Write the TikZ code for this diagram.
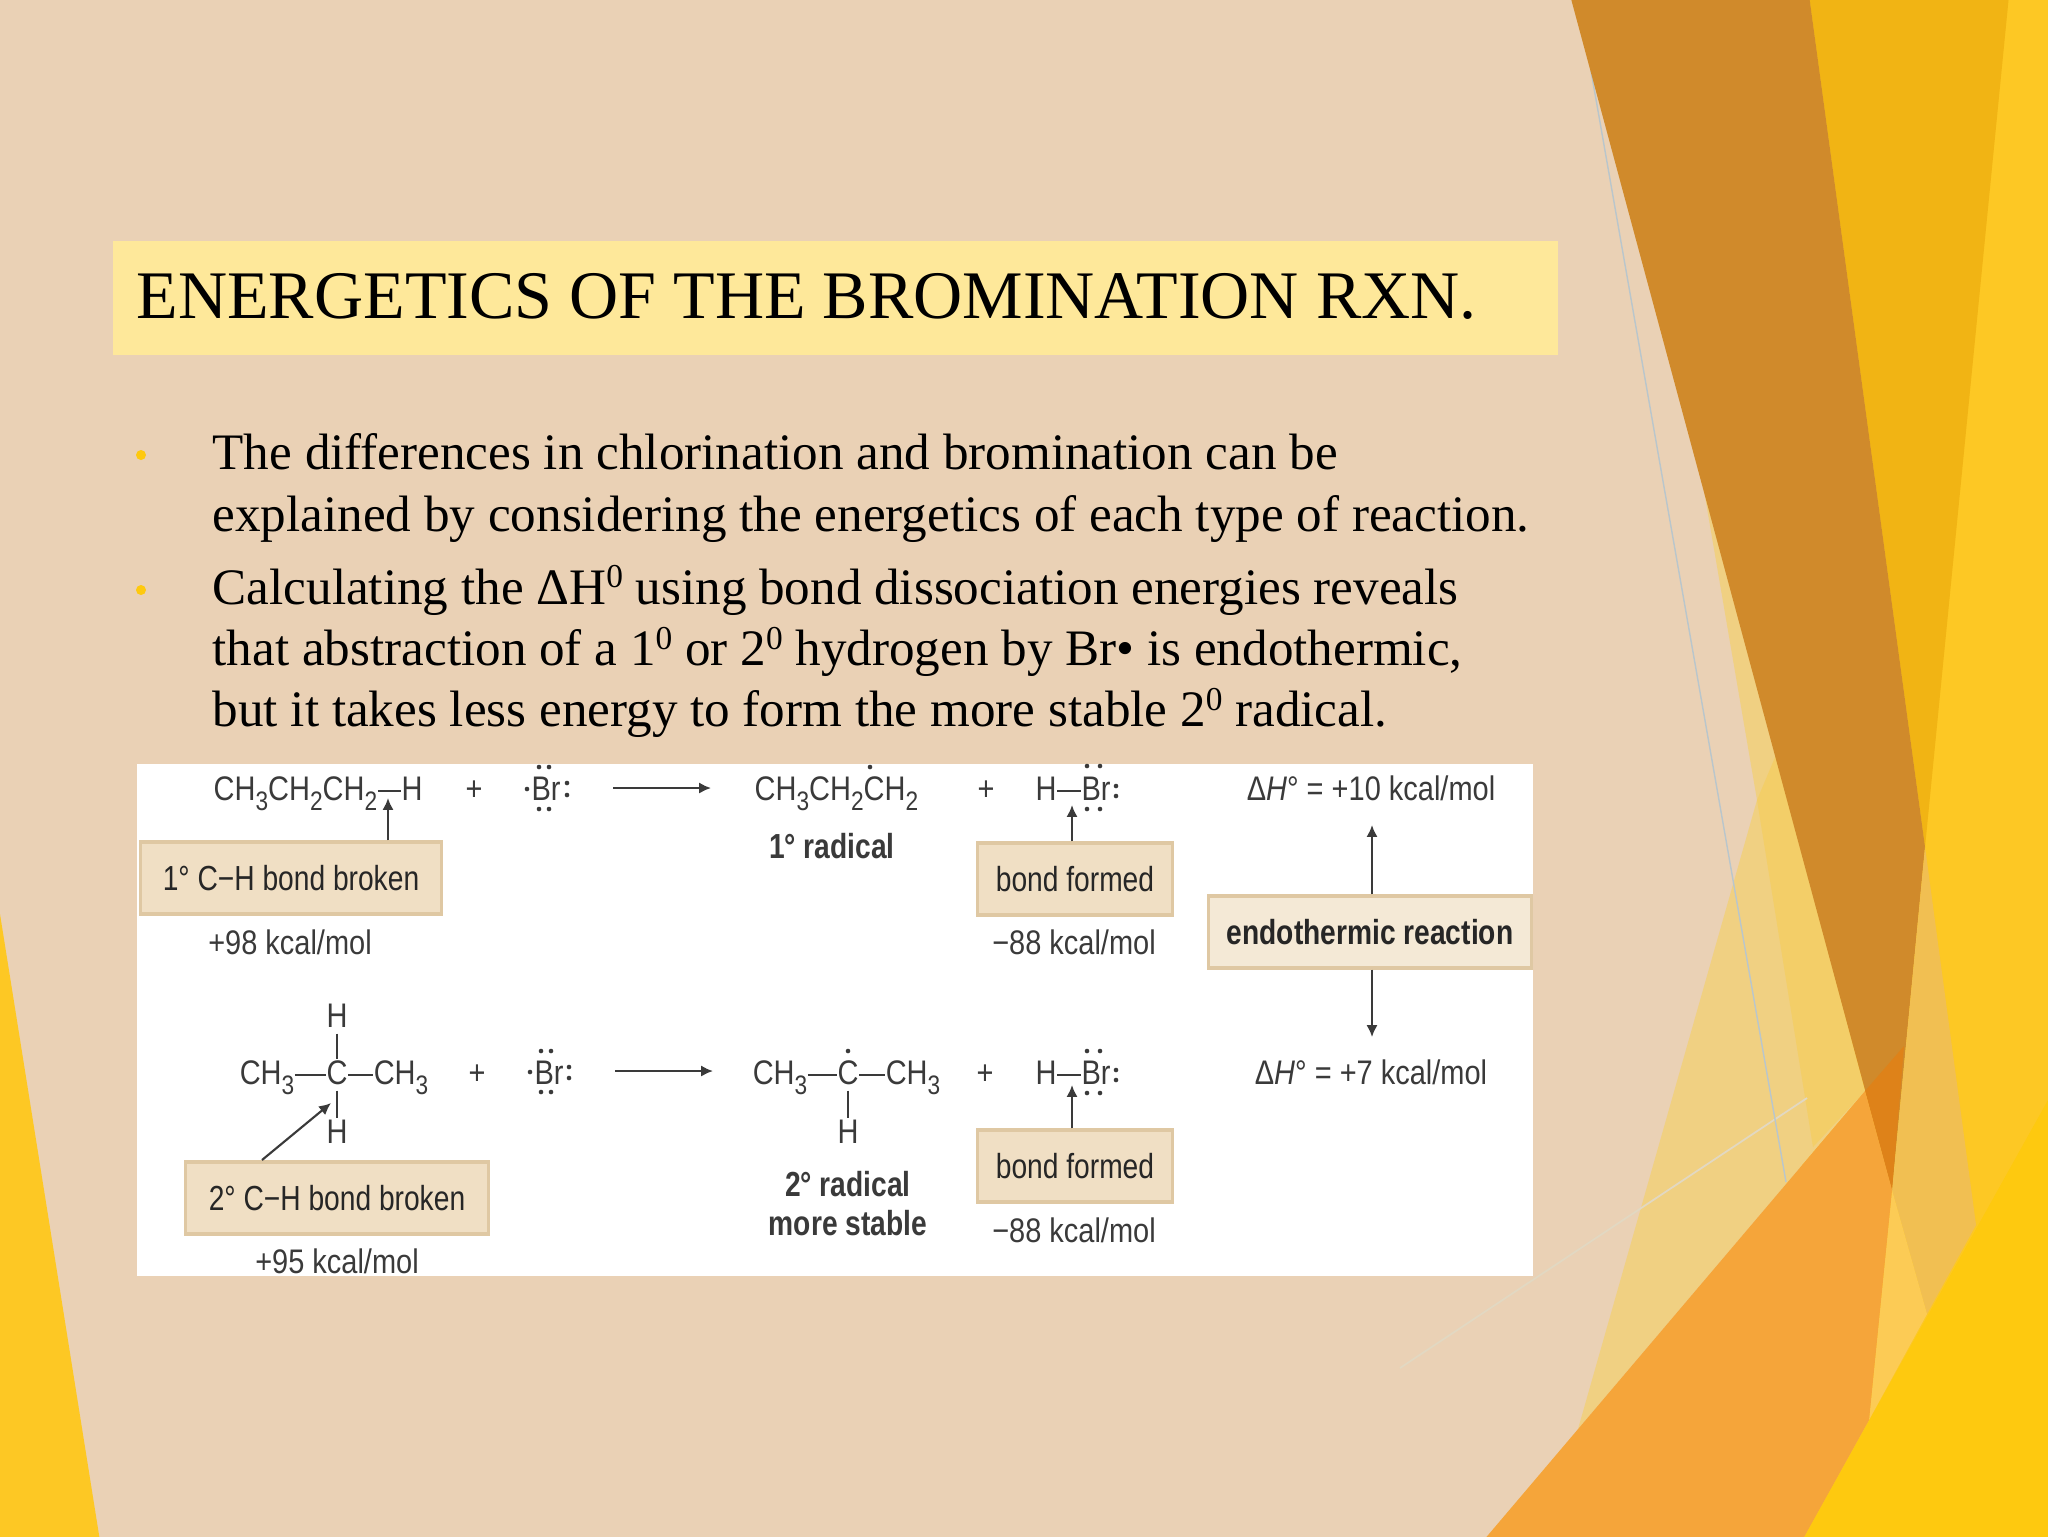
\documentclass[tikz,border=0pt]{standalone}
\usepackage{fontspec}
\setmainfont{Liberation Serif}
\newfontfamily\figfont[FakeStretch=.85]{Liberation Sans}
\newfontfamily\boxfont[FakeStretch=.81]{Liberation Sans}
\usetikzlibrary{arrows.meta}

\definecolor{slidebg}{HTML}{EAD1B5}
\definecolor{titlebg}{HTML}{FEE89A}
\definecolor{brownband}{HTML}{D08A2B}
\definecolor{goldband}{HTML}{F1B414}
\definecolor{sideband}{HTML}{FDC824}
\definecolor{deepband}{HTML}{FEC90F}
\definecolor{orangeband}{HTML}{F5A53A}
\definecolor{paleband}{HTML}{F0D082}
\definecolor{softband}{HTML}{F3CE68}
\definecolor{amberband}{HTML}{F1BF52}
\definecolor{lightband}{HTML}{FCCB55}
\definecolor{darkband}{HTML}{DE8219}
\definecolor{thinblue}{HTML}{B9C6CC}
\definecolor{thinpale}{HTML}{E2D8C2}
\definecolor{boxfill}{HTML}{F0DFC4}
\definecolor{boxline}{HTML}{DFC8A3}
\definecolor{ink}{HTML}{3A3A3A}

\newcommand{\supz}[1]{\raisebox{.32em}{\fontsize{9.5pt}{9.5pt}\selectfont #1}}
\newcommand{\subn}[1]{\raisebox{-.32em}{\fontsize{7.6pt}{7.6pt}\selectfont #1}}

\begin{document}
\begin{tikzpicture}[x=.1mm,y=-.1mm]

        \useasboundingbox (0,0) rectangle (2048,1536);
        \fill[slidebg] (-5,-5) rectangle (2053,1541);

        \fill[sideband] (0,914) -- (100,1541) -- (-5,1541) -- cycle;

        \fill[sideband] (1800,-5) rectangle (2053,1541);
        \fill[paleband] (1703,485) -- (1757,800) -- (1578,1429) -- (1865,1091) -- cycle;
        \fill[softband] (1757,800) -- (1776,755) -- (1865,1091) -- (1813,1147) -- cycle;
        \draw[color=thinpale,line width=.5pt] (1400,1368) -- (1807,1098);
        \draw[color=thinblue,line width=.4pt] (1591,71) -- (1786,1182);

        \fill[goldband] (1809,-5) -- (2009,-5) -- (1925,847) -- cycle;
        \fill[brownband] (1570,-5) -- (1809,-5) -- (1925,847) -- (1892,1190) -- cycle;
        \fill[amberband] (1925,847) -- (1976,1225) -- (1927,1314) -- (1892,1190) -- cycle;
        \fill[lightband] (1892,1190) -- (1927,1314) -- (1869,1420) -- cycle;
        \fill[darkband] (1904,1046) -- (1865,1091) -- (1892,1190) -- cycle;
        \fill[orangeband] (1483,1541) -- (1865,1091) -- (1892,1190) -- (1869,1420) -- (1802,1541) -- cycle;
        \fill[deepband] (2053,1091) -- (1802,1541) -- (2053,1541) -- cycle;

        \fill[titlebg] (113,241) rectangle (1558,355);
        \fill[white] (137,764) rectangle (1533,1276);

        \node[anchor=base west,inner sep=0,font=\fontsize{19.36pt}{23pt}\selectfont] (title) at (136,318) {ENERGETICS OF THE BROMINATION RXN.};

        \begin{scope}[every node/.style={anchor=north west,inner sep=0,align=left,font=\fontsize{14.55pt}{17.45pt}\selectfont}]
          \node (para1) at (212,433) {The differences in chlorination and bromination can be\\explained by considering the energetics of each type of reaction.};
          \node (para2) at (212,565) {Calculating the ΔH\supz{0} using bond dissociation energies reveals\\that abstraction of a 1\supz{0} or 2\supz{0} hydrogen by Br• is endothermic,\\but it takes less energy to form the more stable 2\supz{0} radical.};
        \end{scope}

        \begin{scope}[every node/.style={circle,fill=deepband,inner sep=0,minimum size=1mm}]
          \node (bullet1) at (141,455) {};
          \node (bullet2) at (141,590) {};
        \end{scope}

        \begin{scope}[every node/.style={rectangle,draw=boxline,fill=boxfill,line width=.9pt,text=black!85,inner sep=0,minimum height=7.2mm,font=\boxfont\fontsize{9.9pt}{12pt}\selectfont}]
          \node[minimum width=30.1mm] (box1) at (291,878) {1\textdegree\ C−H bond broken};
          \node[minimum width=30.3mm] (box2) at (337,1198) {2\textdegree\ C−H bond broken};
          \node[minimum width=19.5mm] (box3) at (1075,879) {bond formed};
          \node[minimum width=19.5mm] (box4) at (1075,1166) {bond formed};
          \node[minimum width=32.3mm,fill=boxfill!70!white,font=\boxfont\bfseries\fontsize{9.9pt}{12pt}\selectfont] (box5) at (1370,932) {endothermic reaction};
        \end{scope}

        \begin{scope}[every node/.style={inner sep=0,text=ink,text height=2.4mm,text depth=.6mm,font=\figfont\fontsize{9.7pt}{11pt}\selectfont}]
          \node[anchor=west] (alkyl1) at (213,791) {CH\subn{3}CH\subn{2}CH\subn{2}};
          \node (h1) at (412,791) {H};
          \node (plus1) at (474,791) {+};
          \node (br1) at (546,791) {Br};
          \node[anchor=west] (prod1) at (754,791) {CH\subn{3}CH\subn{2}CH\subn{2}};
          \node (plus2) at (986,791) {+};
          \node (h2) at (1046,791) {H};
          \node (br2) at (1096,791) {Br};
          \node (dh1) at (1371,791) {Δ\textit{H}\textdegree\ = +10 kcal/mol};
          \node[font=\boxfont\bfseries\fontsize{9.9pt}{11pt}\selectfont] (rad1) at (832,849) {1\textdegree\ radical};
          \node (en1) at (290,945) {+98 kcal/mol};
          \node (en2) at (1074,945) {−88 kcal/mol};

          \node (ch3a) at (267,1075) {CH\subn{3}};
          \node (c1) at (337,1075) {C};
          \node (ch3b) at (401,1075) {CH\subn{3}};
          \node (h3) at (337,1018) {H};
          \node (h4) at (337,1134) {H};
          \node (plus3) at (477,1075) {+};
          \node (br3) at (549,1075) {Br};
          \node (ch3c) at (780,1075) {CH\subn{3}};
          \node (c2) at (848,1075) {C};
          \node (ch3d) at (913,1075) {CH\subn{3}};
          \node (h5) at (848,1134) {H};
          \node (plus4) at (985,1075) {+};
          \node (h6) at (1046,1075) {H};
          \node (br4) at (1096,1075) {Br};
          \node (dh2) at (1371,1075) {Δ\textit{H}\textdegree\ = +7 kcal/mol};
          \node[font=\boxfont\bfseries\fontsize{9.9pt}{11pt}\selectfont] (rad2) at (848,1187) {2\textdegree\ radical};
          \node[font=\boxfont\bfseries\fontsize{9.9pt}{11pt}\selectfont] (rad3) at (848,1226) {more stable};
          \node (en3) at (337,1264) {+95 kcal/mol};
          \node (en4) at (1074,1233) {−88 kcal/mol};
        \end{scope}

        \coordinate (tip1) at (388,798);
        \coordinate (tip2) at (1072,805);
        \coordinate (tip3) at (1372,825);
        \coordinate (tip4) at (1372,1037);
        \coordinate (tip5) at (331,1103);
        \coordinate (tip6) at (1072,1085);
        \coordinate (tail5) at (262,1160);
        \coordinate (rxn1a) at (613,788);
        \coordinate (rxn1b) at (711,788);
        \coordinate (rxn2a) at (615,1071);
        \coordinate (rxn2b) at (713,1071);

        \begin{scope}[every edge/.style={draw=ink,line width=.55pt}]
          \path (alkyl1) edge (h1);
          \path (h2) edge (br2);
          \path (ch3a) edge (c1);
          \path (c1) edge (ch3b);
          \path (h3) edge (c1);
          \path (c1) edge (h4);
          \path (ch3c) edge (c2);
          \path (c2) edge (ch3d);
          \path (c2) edge (h5);
          \path (h6) edge (br4);
        \end{scope}

        \begin{scope}[every edge/.style={draw=ink,line width=.6pt,-{Latex[length=3.4pt,width=3.2pt]}}]
          \path (box1.north -| tip1) edge (tip1);
          \path (box3.north -| tip2) edge (tip2);
          \path (box5.north -| tip3) edge (tip3);
          \path (box5.south -| tip4) edge (tip4);
          \path (tail5) edge (tip5);
          \path (box4.north -| tip6) edge (tip6);
          \path (rxn1a) edge (rxn1b);
          \path (rxn2a) edge (rxn2b);
        \end{scope}

        \foreach \x/\y in {539/767,549/767,539/809,549/809,527/789,567/783,567/795,
                           541/1051,551/1051,541/1092,551/1092,530/1072,569/1067,569/1078,
                           1087/766,1100/766,1087/809,1100/809,1116/786,1116/796,
                           1087/1051,1100/1051,1087/1093,1100/1093,1116/1070,1116/1080,
                           870/767,848/1051}
          \fill[ink] (\x,\y) circle (2.3);

      \end{tikzpicture}
\end{document}
